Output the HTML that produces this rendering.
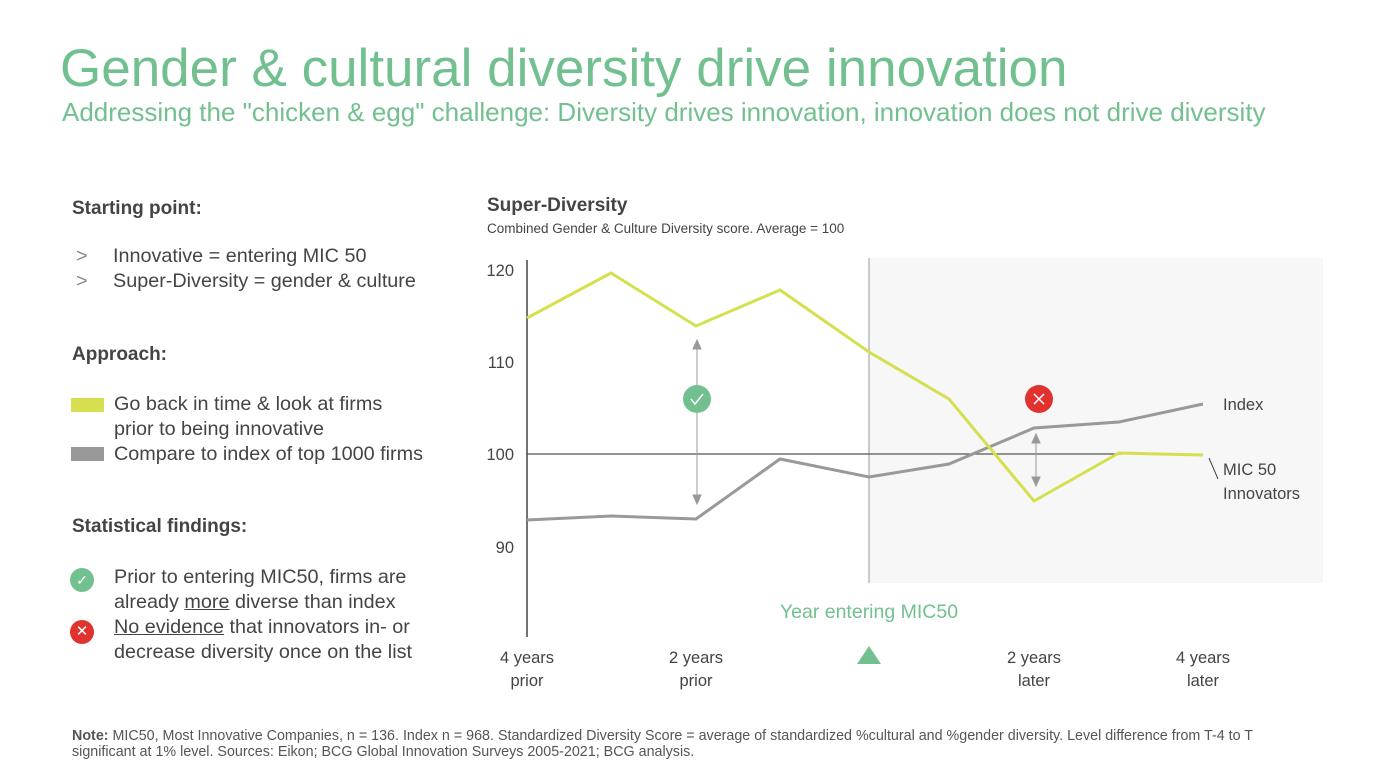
<!DOCTYPE html>
<html><head><meta charset="utf-8"><style>
body{margin:0;width:1400px;height:784px;background:#fff;font-family:"Liberation Sans",sans-serif;position:relative;overflow:hidden}
.a{position:absolute;white-space:nowrap}
.h{color:#444;font-weight:bold;font-size:19px}
.t{color:#444;font-size:19.8px;line-height:25px}
</style></head><body>
<div class="a" style="left:60px;top:38px;font-size:53px;color:#72c08f">Gender &amp; cultural diversity drive innovation</div>
<div class="a" style="left:62px;top:97px;font-size:26px;color:#72c08f">Addressing the "chicken &amp; egg" challenge: Diversity drives innovation, innovation does not drive diversity</div>

<div class="a h" style="left:72px;top:198px">Starting point:</div>
<div class="a t" style="left:76px;top:244px;color:#888">&gt;</div>
<div class="a t" style="left:76px;top:269px;color:#888">&gt;</div>
<div class="a t" style="left:113px;top:244px">Innovative = entering MIC 50<br>Super-Diversity = gender &amp; culture</div>
<div class="a h" style="left:72px;top:344px">Approach:</div>
<div style="position:absolute;left:71px;top:398px;width:33px;height:14px;background:#d6df4f"></div>
<div style="position:absolute;left:71px;top:447px;width:33px;height:14px;background:#999"></div>
<div class="a t" style="left:114px;top:392px">Go back in time &amp; look at firms<br>prior to being innovative<br>Compare to index of top 1000 firms</div>
<div class="a h" style="left:72px;top:516px">Statistical findings:</div>
<div style="position:absolute;left:70px;top:568px;width:24px;height:24px;border-radius:50%;background:#72c08f;color:#fff;font-size:14px;text-align:center;line-height:24px">✓</div>
<div style="position:absolute;left:70px;top:620px;width:24px;height:24px;border-radius:50%;background:#e0332f;color:#fff;font-size:15px;text-align:center;line-height:24px">✕</div>
<div class="a t" style="left:114px;top:565px">Prior to entering MIC50, firms are<br>already <u>more</u> diverse than index<br><u>No evidence</u> that innovators in- or<br>decrease diversity once on the list</div>

<div class="a" style="left:487px;top:195px;font-size:19px;font-weight:bold;color:#444">Super-Diversity</div>
<div class="a" style="left:487px;top:221px;font-size:13.5px;color:#444">Combined Gender &amp; Culture  Diversity score. Average = 100</div>

<svg style="position:absolute;left:0;top:0" width="1400" height="784">
<rect x="869" y="258" width="454" height="325" fill="#f7f7f7"/>
<line x1="869" y1="258" x2="869" y2="583" stroke="#999" stroke-width="1"/>
<line x1="527" y1="260" x2="527" y2="637" stroke="#444" stroke-width="1.5"/>
<line x1="527" y1="454" x2="1122" y2="454" stroke="#555" stroke-width="1.2"/>
<polyline fill="none" stroke="#999" stroke-width="3" points="527,520 611,516 696,519 780,459 869,477 949,464 1034,428 1119,422 1203,404"/>
<polyline fill="none" stroke="#d6df4f" stroke-width="3" points="527,318 611,273 696,326 780,290 869,352 949,399 1034,501 1119,453 1203,455"/>
<g stroke="#999" stroke-width="1" fill="#999">
<line x1="697" y1="346" x2="697" y2="498"/>
<polygon points="697,340 693,349 701,349"/><polygon points="697,504 693,495 701,495"/>
<line x1="1036" y1="440" x2="1036" y2="480"/>
<polygon points="1036,434 1032,443 1040,443"/><polygon points="1036,486 1032,477 1040,477"/>
</g>
<circle cx="697" cy="399" r="14" fill="#72c08f"/>
<path d="M691,399 l4,5 l8,-10" stroke="#fff" stroke-width="1.5" fill="none"/>
<circle cx="1039" cy="399" r="14" fill="#e0332f"/>
<path d="M1034,394 l10,10 M1044,394 l-10,10" stroke="#fff" stroke-width="1.5"/>
<line x1="1209" y1="458" x2="1218" y2="479" stroke="#444" stroke-width="1"/>
<polygon points="869,646 857,664 881,664" fill="#72c08f"/>
<g font-family="Liberation Sans" font-size="16.5" fill="#444" text-anchor="end">
<text x="514" y="276">120</text><text x="514" y="368">110</text><text x="514" y="460">100</text><text x="514" y="553">90</text>
</g>
<g font-family="Liberation Sans" font-size="16.5" fill="#444" text-anchor="middle">
<text x="527" y="663">4 years</text><text x="527" y="686">prior</text>
<text x="696" y="663">2 years</text><text x="696" y="686">prior</text>
<text x="1034" y="663">2 years</text><text x="1034" y="686">later</text>
<text x="1203" y="663">4 years</text><text x="1203" y="686">later</text>
</g>
<g font-family="Liberation Sans" font-size="16.5" fill="#444">
<text x="1223" y="410">Index</text><text x="1223" y="475">MIC 50</text><text x="1223" y="499">Innovators</text>
</g>
<text x="869" y="618" text-anchor="middle" font-family="Liberation Sans" font-size="19.5" fill="#72c08f">Year entering MIC50</text>
</svg>
<div class="a" style="left:72px;top:728px;font-size:14.3px;color:#555;line-height:16px"><b>Note:</b> MIC50, Most Innovative Companies, n = 136. Index n = 968. Standardized Diversity Score = average of standardized %cultural and %gender diversity. Level difference from T-4 to T<br>significant at 1% level. Sources: Eikon; BCG Global Innovation Surveys 2005-2021; BCG analysis.</div>
</body></html>
